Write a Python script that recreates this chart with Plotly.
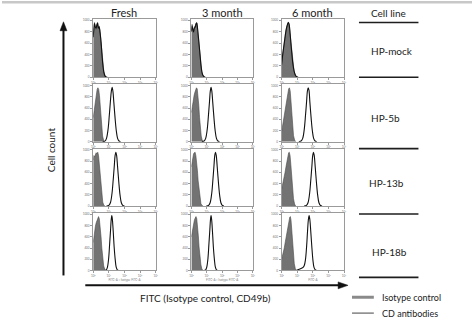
import plotly.graph_objects as go

W, H = 474, 325

col_titles = ["Fresh", "3 month", "6 month"]
row_labels = ["HP-mock", "HP-5b", "HP-13b", "HP-18b"]
x_tick_vals = [1, 10, 100, 1000, 10000]
x_tick_text = ["10⁰", "10¹", "10²", "10³", "10⁴"]
y_tick_vals = [0, 200, 400, 600, 800, 1000]
legend_labels = ["Isotype control", "CD antibodies"]

# (log10 FITC, count)
mock_fresh_iso = [(0,760),(0.04,880),(0.08,960),(0.13,900),(0.18,840),(0.23,930),(0.28,960),(0.33,880),(0.38,900),(0.43,820),(0.5,640),(0.56,420),(0.62,230),(0.68,100),(0.75,30),(0.82,5),(0.9,0)]
mock_fresh_cd = [(0,700),(0.04,840),(0.08,940),(0.13,880),(0.18,860),(0.23,910),(0.28,950),(0.33,860),(0.38,880),(0.43,800),(0.5,620),(0.56,400),(0.62,210),(0.68,90),(0.75,25),(0.82,5),(0.9,0)]
mock_3m_iso = [(0,820),(0.04,930),(0.09,860),(0.14,780),(0.19,880),(0.25,900),(0.3,950),(0.35,960),(0.4,840),(0.45,700),(0.5,560),(0.56,380),(0.62,200),(0.68,90),(0.75,30),(0.83,5),(0.9,0)]
mock_3m_cd = [(0,800),(0.04,900),(0.09,840),(0.14,800),(0.19,860),(0.25,880),(0.3,930),(0.35,950),(0.4,860),(0.45,720),(0.5,580),(0.56,400),(0.62,220),(0.68,100),(0.75,35),(0.83,8),(0.92,0)]
mock_6m_iso = [(0,260),(0.03,330),(0.08,440),(0.14,560),(0.2,680),(0.26,800),(0.32,880),(0.38,940),(0.43,970),(0.48,920),(0.54,760),(0.6,560),(0.66,380),(0.72,220),(0.8,100),(0.88,35),(0.96,8),(1.05,0)]
mock_6m_cd = [(0,220),(0.03,300),(0.08,420),(0.14,540),(0.2,660),(0.26,780),(0.32,870),(0.38,930),(0.43,960),(0.48,930),(0.54,780),(0.6,580),(0.66,400),(0.72,240),(0.8,110),(0.88,40),(0.96,10),(1.06,0)]

b5_fresh_iso = [(0,430),(0.04,520),(0.08,620),(0.12,700),(0.16,780),(0.2,860),(0.25,930),(0.3,960),(0.35,930),(0.4,820),(0.45,620),(0.5,400),(0.55,220),(0.6,100),(0.66,30),(0.72,0)]
b5_fresh_cd = [(0.6,0),(0.75,10),(0.85,60),(0.95,220),(1.03,470),(1.1,720),(1.16,900),(1.21,970),(1.26,900),(1.32,700),(1.4,420),(1.48,190),(1.56,60),(1.65,12),(1.75,0)]
b5_3m_iso = [(0,520),(0.04,600),(0.08,680),(0.13,760),(0.18,830),(0.23,880),(0.28,930),(0.33,960),(0.38,940),(0.43,840),(0.48,650),(0.53,430),(0.58,240),(0.64,100),(0.7,30),(0.77,0)]
b5_3m_cd = [(0.68,0),(0.83,12),(0.93,60),(1.03,220),(1.11,470),(1.18,720),(1.23,900),(1.28,970),(1.33,900),(1.39,700),(1.47,420),(1.55,190),(1.63,60),(1.72,12),(1.83,0)]
b5_6m_iso = [(0,180),(0.05,260),(0.1,340),(0.16,440),(0.22,560),(0.28,680),(0.34,790),(0.4,880),(0.45,940),(0.5,960),(0.55,900),(0.6,720),(0.65,480),(0.7,270),(0.76,110),(0.83,30),(0.9,0)]
b5_6m_cd = [(1.1,0),(1.25,12),(1.35,60),(1.45,220),(1.53,470),(1.6,720),(1.65,900),(1.7,960),(1.75,920),(1.81,700),(1.89,420),(1.97,190),(2.05,60),(2.14,12),(2.25,0)]

b13_fresh_iso = [(0,820),(0.04,900),(0.09,880),(0.14,920),(0.19,950),(0.24,930),(0.29,960),(0.34,900),(0.39,760),(0.44,560),(0.5,340),(0.55,180),(0.61,70),(0.68,15),(0.75,0)]
b13_fresh_cd = [(0.85,0),(1.0,12),(1.1,60),(1.2,220),(1.28,470),(1.35,720),(1.4,900),(1.45,960),(1.5,900),(1.56,700),(1.64,420),(1.72,190),(1.8,60),(1.89,12),(2.0,0)]
b13_3m_iso = [(0,700),(0.04,800),(0.09,880),(0.14,930),(0.19,950),(0.24,960),(0.29,900),(0.34,800),(0.39,640),(0.44,450),(0.5,270),(0.56,130),(0.62,45),(0.69,10),(0.76,0)]
b13_3m_cd = [(0.97,0),(1.12,12),(1.22,60),(1.32,220),(1.4,470),(1.47,720),(1.52,900),(1.57,960),(1.62,900),(1.68,700),(1.76,420),(1.84,190),(1.92,60),(2.01,12),(2.12,0)]
b13_6m_iso = [(0,300),(0.05,360),(0.1,420),(0.16,500),(0.22,600),(0.28,700),(0.34,800),(0.4,900),(0.45,950),(0.49,960),(0.54,900),(0.59,740),(0.64,520),(0.7,300),(0.76,130),(0.83,35),(0.9,0)]
b13_6m_cd = [(1.44,0),(1.59,12),(1.69,60),(1.79,220),(1.87,470),(1.94,720),(1.99,900),(2.04,960),(2.09,900),(2.15,700),(2.23,420),(2.31,190),(2.39,60),(2.48,12),(2.59,0)]

b18_fresh_iso = [(0,500),(0.04,600),(0.09,700),(0.14,790),(0.19,850),(0.24,900),(0.29,940),(0.34,960),(0.39,920),(0.44,800),(0.5,600),(0.55,400),(0.61,210),(0.67,80),(0.74,20),(0.8,0)]
b18_fresh_cd = [(0.72,0),(0.84,12),(0.91,60),(0.99,220),(1.05,470),(1.11,720),(1.15,900),(1.19,980),(1.23,900),(1.28,700),(1.34,420),(1.41,190),(1.47,60),(1.54,12),(1.63,0)]
b18_3m_iso = [(0,600),(0.04,680),(0.09,760),(0.14,830),(0.19,890),(0.24,930),(0.3,960),(0.35,920),(0.4,800),(0.45,620),(0.5,420),(0.56,230),(0.62,100),(0.68,30),(0.75,0)]
b18_3m_cd = [(0.81,0),(0.93,12),(1.0,60),(1.08,220),(1.14,470),(1.2,720),(1.24,900),(1.28,980),(1.32,900),(1.37,700),(1.43,420),(1.5,190),(1.56,60),(1.63,12),(1.72,0)]
b18_6m_iso = [(0,200),(0.05,250),(0.11,320),(0.17,400),(0.23,500),(0.29,600),(0.35,700),(0.41,800),(0.47,890),(0.52,950),(0.56,960),(0.6,900),(0.65,720),(0.7,500),(0.75,290),(0.81,120),(0.88,30),(0.95,0)]
b18_6m_cd = [(0.95,0),(1.05,15),(1.2,30),(1.35,50),(1.45,90),(1.53,200),(1.6,430),(1.66,700),(1.71,900),(1.76,980),(1.81,900),(1.87,680),(1.94,400),(2.01,170),(2.08,50),(2.16,10),(2.26,0)]

panels = [
    [(mock_fresh_iso, mock_fresh_cd), (mock_3m_iso, mock_3m_cd), (mock_6m_iso, mock_6m_cd)],
    [(b5_fresh_iso, b5_fresh_cd), (b5_3m_iso, b5_3m_cd), (b5_6m_iso, b5_6m_cd)],
    [(b13_fresh_iso, b13_fresh_cd), (b13_3m_iso, b13_3m_cd), (b13_6m_iso, b13_6m_cd)],
    [(b18_fresh_iso, b18_fresh_cd), (b18_3m_iso, b18_3m_cd), (b18_6m_iso, b18_6m_cd)],
]

# layout geometry (pixels)
col_left = [92, 191, 282]
col_right = [155, 253, 345]
row_top = [18, 84, 149, 214]
row_bot = [77, 142, 207, 272]

def px(x):
    return x / W

def py(y):
    return 1 - y / H

FONT = "Lato"
fig = go.Figure()
layout = dict(width=W, height=H, margin=dict(l=0, r=0, t=0, b=0),
              paper_bgcolor="white", plot_bgcolor="white", showlegend=False,
              font=dict(family=FONT, color="#222"))

bottom_titles = ["FITC-A :: Isotype FITC-A", "FITC-A :: Isotype FITC-A", "FITC-A"]
k = 0
for r in range(4):
    for c in range(3):
        k += 1
        xa = "x" if k == 1 else f"x{k}"
        ya = "y" if k == 1 else f"y{k}"
        iso, cd = panels[r][c]
        fig.add_trace(go.Scatter(
            x=[10 ** p[0] for p in iso], y=[p[1] for p in iso],
            mode="lines", fill="tozeroy", fillcolor="#737373",
            line=dict(color="#4a4a4a", width=0.6), xaxis=xa, yaxis=ya,
            hoverinfo="skip"))
        fig.add_trace(go.Scatter(
            x=[10 ** p[0] for p in cd], y=[p[1] for p in cd],
            mode="lines", line=dict(color="#111", width=1.1, shape="spline"),
            xaxis=xa, yaxis=ya, hoverinfo="skip"))
        xkey = "xaxis" if k == 1 else f"xaxis{k}"
        ykey = "yaxis" if k == 1 else f"yaxis{k}"
        xdict = dict(domain=[px(col_left[c]), px(col_right[c])], anchor=ya,
                     type="log", range=[0, 4], tickvals=x_tick_vals, ticktext=x_tick_text,
                     showline=True, mirror=True, linecolor="#9a9a9a", linewidth=1,
                     ticks="outside", ticklen=2, tickcolor="#9a9a9a",
                     tickfont=dict(size=3, color="#777"), showgrid=False, zeroline=False)
        if r == 3:
            xdict["title"] = dict(text=bottom_titles[c], font=dict(size=3, color="#777"), standoff=1)
        layout[xkey] = xdict
        layout[ykey] = dict(domain=[py(row_bot[r]), py(row_top[r])], anchor=xa,
                            range=[0, 1024], tickvals=y_tick_vals,
                            showline=True, mirror=True, linecolor="#9a9a9a", linewidth=1,
                            ticks="outside", ticklen=2, tickcolor="#9a9a9a",
                            tickfont=dict(size=3, color="#777"), showgrid=False, zeroline=False)

def label(x, y, text, size=10, xanchor="center", angle=0):
    return dict(x=px(x), y=py(y), xref="paper", yref="paper", text=text,
                showarrow=False, xanchor=xanchor, yanchor="middle", textangle=angle,
                font=dict(size=size, family=FONT, color="#222"))

annotations = []
col_title_x = [123, 222, 313]
for c, t in enumerate(col_titles):
    annotations.append(label(col_title_x[c], 12, t, size=11))
annotations.append(label(390, 12, "Cell line"))
label_xy = [(393, 50), (387, 118), (388, 184), (391, 253)]
for (lx, ly), t in zip(label_xy, row_labels):
    annotations.append(label(lx, ly, t))
annotations.append(label(49, 150, "Cell count", angle=-90))
annotations.append(label(205, 300, "FITC (Isotype control, CD49b)"))
annotations.append(label(381, 299, legend_labels[0], size=9, xanchor="left"))
annotations.append(label(381, 315, legend_labels[1], size=9, xanchor="left"))
layout["annotations"] = annotations

def pline(x0, y0, x1, y1, color, width):
    return dict(type="line", xref="paper", yref="paper", x0=px(x0), x1=px(x1),
                y0=py(y0), y1=py(y1), line=dict(color=color, width=width))

def tri(pts, color="#111"):
    path = "M " + " L ".join(f"{px(a):.5f},{py(b):.5f}" for a, b in pts) + " Z"
    return dict(type="path", xref="paper", yref="paper", path=path,
                fillcolor=color, line=dict(color=color, width=0.5))

shapes = [dict(type="rect", xref="paper", yref="paper", x0=0, x1=1, y0=py(2.5), y1=1,
               fillcolor="#c8c8c8", line=dict(width=0))]
# axis arrows
shapes.append(pline(62, 28, 62, 277, "#111", 2))
shapes.append(tri([(62, 21), (58.5, 30), (65.5, 30)]))
shapes.append(pline(84, 287, 341, 287, "#111", 2))
shapes.append(tri([(349, 287), (339, 283.5), (339, 290.5)]))
for yy in [21.7, 77, 149, 215, 279]:
    shapes.append(pline(360, yy, 420, yy, "#1e1e1e", 1.6))
shapes.append(pline(353, 299, 375, 299, "#8a8a8a", 3))
shapes.append(pline(353, 315, 375, 315, "#444", 1))
layout["shapes"] = shapes

fig.update_layout(**layout)
fig.write_html("out.html")
